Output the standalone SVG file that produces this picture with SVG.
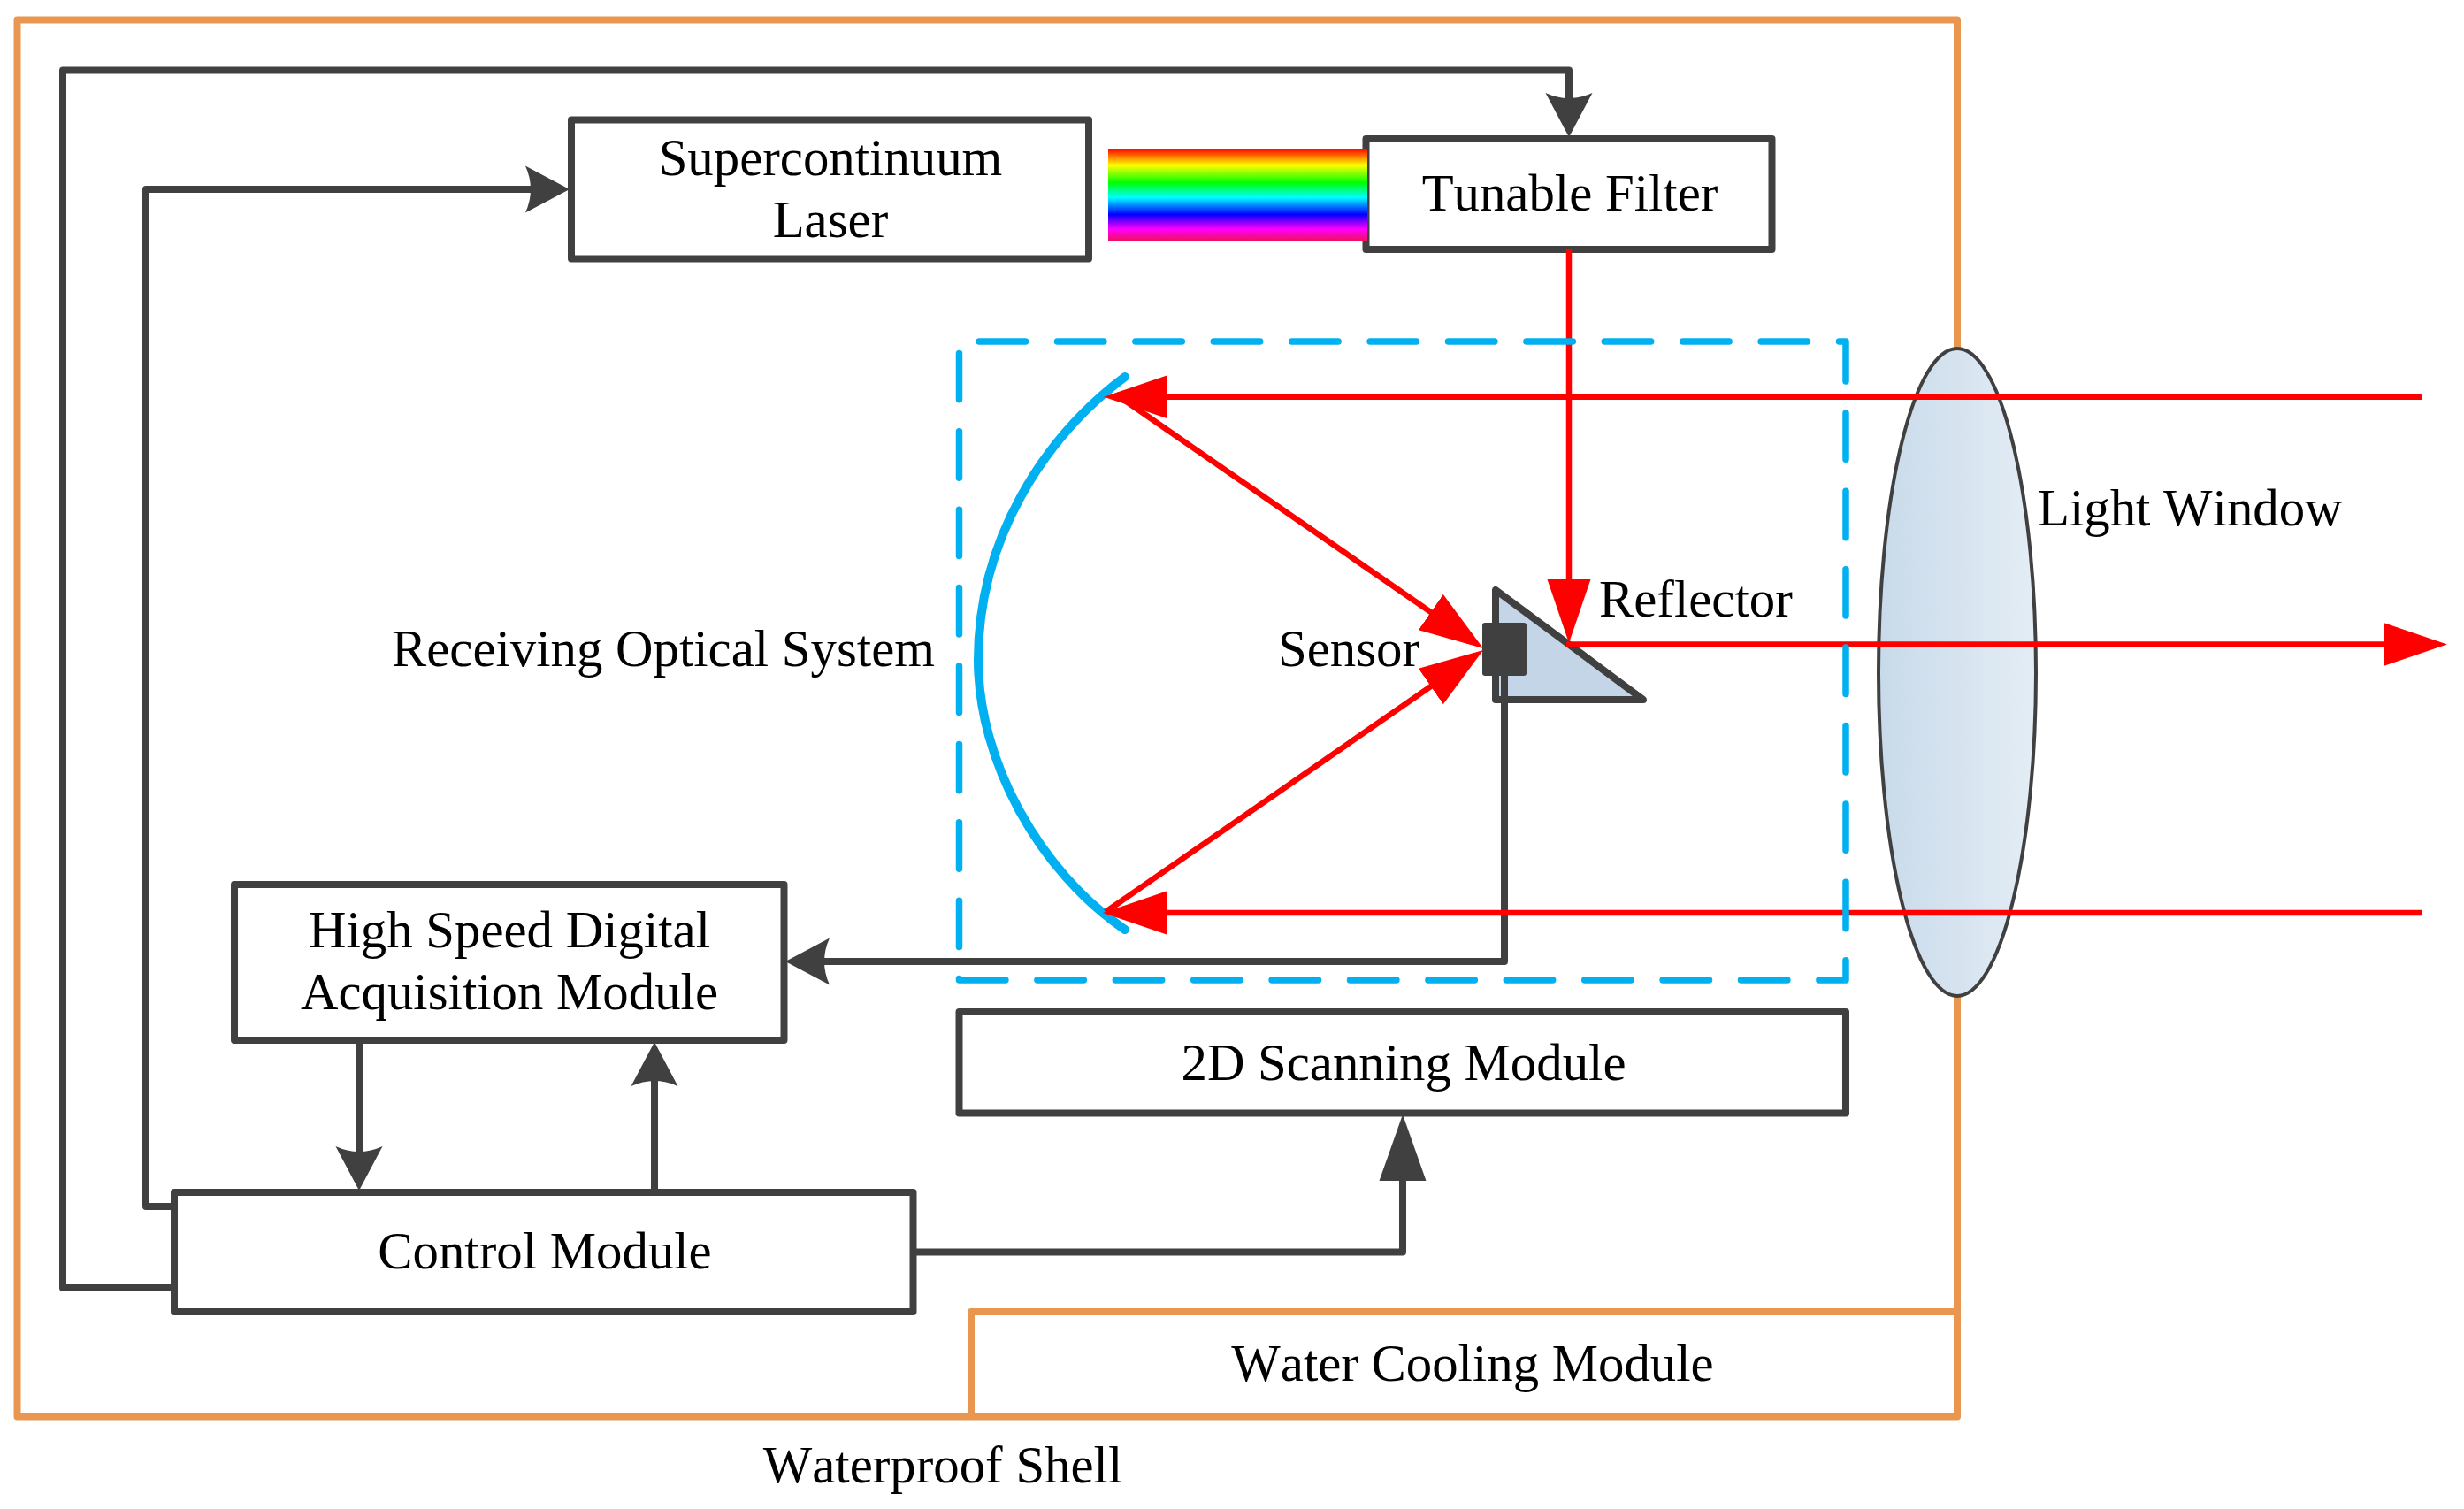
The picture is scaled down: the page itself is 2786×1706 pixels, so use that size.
<svg xmlns="http://www.w3.org/2000/svg" width="2786" height="1706" viewBox="0 0 2786 1706">
  <style>
    text { font-family: "Liberation Serif", "Times New Roman", serif; font-size: 58.8px; font-kerning: none; fill: #000; text-anchor: middle; }
    text.start { text-anchor: start; }
    .box { fill: #fff; stroke: #404040; stroke-width: 8; stroke-linejoin: round; }
    .dark { fill: none; stroke: #404040; stroke-width: 8; stroke-linejoin: round; }
    .red { fill: none; stroke: #FF0000; stroke-width: 6.5; marker-end: url(#redHead); }
    .shell { fill: none; stroke: #E99650; stroke-width: 8; stroke-linejoin: round; }
    .notched { marker-end: url(#darkHead); }
  </style>
  <defs>
    <marker id="darkHead" markerUnits="userSpaceOnUse" viewBox="0 -27 54 54" markerWidth="54" markerHeight="54" refX="10" refY="0" orient="auto">
      <path d="M50 0L0 -26.5Q12 0 0 26.5Z" fill="#404040"/>
    </marker>
    <marker id="darkWide" markerUnits="userSpaceOnUse" viewBox="0 -27 78 54" markerWidth="78" markerHeight="54" refX="12" refY="0" orient="auto">
      <path d="M75 0L0 -26.5V26.5Z" fill="#404040"/>
    </marker>
    <marker id="redHead" markerUnits="userSpaceOnUse" viewBox="0 -25 74 50" markerWidth="74" markerHeight="50" refX="12" refY="0" orient="auto">
      <path d="M72 0L0 -24.5V24.5Z" fill="#FF0000"/>
    </marker>
    <linearGradient id="rainbow" x1="0" y1="0" x2="0" y2="1">
      <stop offset="0" stop-color="#FF0000"/>
      <stop offset="0.18" stop-color="#FFFF00"/>
      <stop offset="0.37" stop-color="#00FF00"/>
      <stop offset="0.53" stop-color="#00FFFF"/>
      <stop offset="0.715" stop-color="#0000FF"/>
      <stop offset="0.875" stop-color="#FF00FF"/>
      <stop offset="1" stop-color="#F01060"/>
    </linearGradient>
    <linearGradient id="lensFill" x1="0" y1="0" x2="1" y2="0">
      <stop offset="0" stop-color="#C8DAEA"/>
      <stop offset="1" stop-color="#E4EDF5"/>
    </linearGradient>
  </defs>
  <rect width="2786" height="1706" fill="#fff"/>

  <g id="waterproof-shell">
    <path class="shell" d="M19.5 22.5H2213V1601.5H19.5Z"/>
    <text x="1066" y="1676">Waterproof Shell</text>
  </g>
  <g id="water-cooling-module">
    <path class="shell" d="M1098 1601V1483H2213"/>
    <text x="1665" y="1561">Water Cooling Module</text>
  </g>
  <g id="light-window">
    <ellipse cx="2213" cy="760" rx="89" ry="366" fill="url(#lensFill)" stroke="#404040" stroke-width="4"/>
    <text class="start" x="2304" y="594">Light Window</text>
  </g>
  <g id="mirror">
    <path d="M1272 426C1180 495 1106 610 1106 746C1106 860 1175 985 1272 1051" fill="none" stroke="#00B0F0" stroke-width="10" stroke-linecap="round"/>
  </g>

  <g id="connectors">
    <path class="dark notched" d="M197 1456H71V79.5H1774V115"/>
    <path class="dark notched" d="M197 1364H165V214H604"/>
    <path class="dark notched" d="M406 1176V1306"/>
    <path class="dark notched" d="M740 1348V1218"/>
    <path class="dark" d="M1032 1415.5H1586V1323" marker-end="url(#darkWide)"/>
  </g>

  <g id="supercontinuum-laser">
    <rect class="box" x="646" y="135.5" width="585" height="157"/>
    <text x="939" y="197.5">Supercontinuum</text>
    <text x="939" y="267.5">Laser</text>
  </g>
  <g id="tunable-filter">
    <rect class="box" x="1544.5" y="157" width="459" height="125"/>
    <text x="1775" y="238">Tunable Filter</text>
  </g>
  <g id="beam">
    <rect x="1253" y="168" width="293" height="104" fill="url(#rainbow)"/>
  </g>
  <g id="acquisition-module">
    <rect class="box" x="265" y="1000" width="621.5" height="176"/>
    <text x="576" y="1071">High Speed Digital</text>
    <text x="576" y="1141">Acquisition Module</text>
  </g>
  <g id="control-module">
    <rect class="box" x="197" y="1348" width="835.5" height="135"/>
    <text x="616" y="1434">Control Module</text>
  </g>
  <g id="scanning-module">
    <rect class="box" x="1084.5" y="1144" width="1002.5" height="114.5"/>
    <text x="1587" y="1221">2D Scanning Module</text>
  </g>
  <g id="reflector">
    <path d="M1691 667V791H1858Z" fill="#C3D5E7" stroke="#404040" stroke-width="8" stroke-linejoin="round"/>
    <text class="start" x="1808" y="696.5">Reflector</text>
  </g>
  <g id="sensor">
    <rect x="1676" y="704" width="50" height="60" rx="3" fill="#404040"/>
    <text class="start" x="1445" y="753">Sensor</text>
  </g>
  <g id="sensor-link">
    <path class="dark notched" d="M1701 764V1087H928"/>
  </g>

  <g id="light-paths">
    <path class="red" d="M1774 282V667"/>
    <path class="red" d="M1771 728.5H2707"/>
    <path class="red" d="M2738 448.7H1308"/>
    <path class="red" d="M2738 1032H1307"/>
    <path class="red" d="M1262 446L1627.7 698.9"/>
    <path class="red" d="M1250 1031L1627.7 769.2"/>
  </g>

  <g id="receiving-optical-system">
    <path d="M1084.5 1108H2087V386H1084.5Z" fill="none" stroke="#00B0F0" stroke-width="7.5" stroke-linecap="round" stroke-linejoin="round" stroke-dasharray="52.4 36"/>
    <text x="750" y="753">Receiving Optical System</text>
  </g>
</svg>
